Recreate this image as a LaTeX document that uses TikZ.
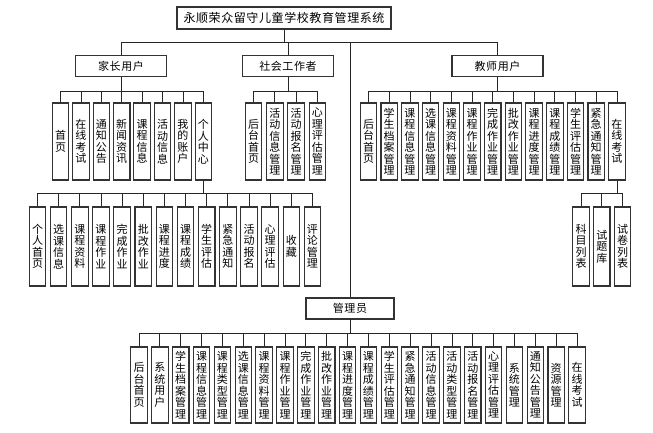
\documentclass[tikz,border=0pt]{standalone}
\usepackage{fontspec}
\newfontfamily\cjk{Noto Sans CJK SC}
\newfontfamily\cjkwide[LetterSpace=5]{Noto Sans CJK SC}
\usetikzlibrary{positioning}

% one character per line for the narrow boxes
\def\vlabel#1{\expandafter\vlabelstep#1\relax}
\def\vlabelstep#1#2{#1\ifx\relax#2\expandafter\vlabelstop\else\expandafter\vlabelnext\fi#2}
\def\vlabelnext{\\\vlabelstep}
\def\vlabelstop#1{}

\begin{document}
\begin{tikzpicture}[
    x=1pt, y=-1pt,
    box/.style={
            draw=black!80,
            line width=1.1pt,
            fill=white,
            inner sep=0pt
        },
    root_block/.style={box, minimum width=214pt, minimum height=22pt,
            font=\cjkwide\fontsize{12}{13}\selectfont},
    role_block/.style={box, minimum width=91pt, minimum height=21pt,
            font=\cjkwide\fontsize{11}{12}\selectfont},
    leaf_block/.style={box, minimum width=16.5pt, align=center,
            font=\cjk\fontsize{11}{11.5}\selectfont},
    edge/.style={draw=black!85, line width=0.8pt},
    ]
    \useasboundingbox (0,0) rectangle (653,432);

    % --- Root ---
    \node[root_block] (system) at (284,18) {永顺荣众留守儿童学校教育管理系统};

    % --- Roles ---
    \node[role_block] (parent) at (121,66) {家长用户};
    \node[role_block] (social) at (288,66) {社会工作者};
    \node[role_block] (teacher) at (497.5,66) {教师用户};
    \node[role_block, minimum width=88pt] (admin) at (350,308.5) {管理员};

    \draw[edge] (system.south) -- ++(0,13) -| (parent.north);
    \draw[edge] (system.south) -- ++(0,13) -| (social.north);
    \draw[edge] (system.south) -- ++(0,13) -| (teacher.north);
    \draw[edge] (system.south) -- ++(0,13) -| (admin.north);

    % --- Parent ---
    \foreach \lbl [count=\i from 0] in {首页,在线考试,通知公告,新闻资讯,课程信息,活动信息,我的账户,个人中心} {
        \node[leaf_block, minimum height=77pt] (parent_\i) at (60.5+20.4*\i,141.5) {\vlabel\lbl};
        \draw[edge] (parent.south) -- ++(0,14) -| (parent_\i.north);
    }

    % --- Personal centre ---
    \foreach \lbl [count=\i from 0] in {个人首页,选课信息,课程资料,课程作业,完成作业,批改作业,课程进度,课程成绩,学生评估,紧急通知,活动报名,心理评估,收藏,评论管理} {
        \node[leaf_block, minimum height=79pt] (center_\i) at (37.5+21.15*\i,246.5) {\vlabel\lbl};
        \draw[edge] (parent_7.south) -- ++(0,13) -| (center_\i.north);
    }

    % --- Social worker ---
    \foreach \lbl [count=\i from 0] in {后台首页,活动信息管理,活动报名管理,心理评估管理} {
        \node[leaf_block, minimum height=77pt] (social_\i) at (253.5+21.3*\i,141.5) {\vlabel\lbl};
        \draw[edge] (social.south) -- ++(0,14) -| (social_\i.north);
    }

    % --- Teacher ---
    \foreach \lbl [count=\i from 0] in {后台首页,学生档案管理,课程信息管理,选课信息管理,课程资料管理,课程作业管理,完成作业管理,批改作业管理,课程进度管理,课程成绩管理,学生评估管理,紧急通知管理,在线考试} {
        \node[leaf_block, minimum height=77pt] (teacher_\i) at (368.5+20.7*\i,141.5) {\vlabel\lbl};
        \draw[edge] (teacher.south) -- ++(0,14) -| (teacher_\i.north);
    }

    % --- Online exam ---
    \foreach \lbl [count=\i from 0] in {科目列表,试题库,试卷列表} {
        \node[leaf_block, minimum height=79pt] (exam_\i) at (581+20.75*\i,246.5) {\vlabel\lbl};
        \draw[edge] (teacher_12.south) -- ++(0,13) -| (exam_\i.north);
    }

    % --- Administrator ---
    \foreach \lbl [count=\i from 0] in {后台首页,系统用户,学生档案管理,课程信息管理,课程类型管理,选课信息管理,课程资料管理,课程作业管理,完成作业管理,批改作业管理,课程进度管理,课程成绩管理,学生评估管理,紧急通知管理,活动信息管理,活动类型管理,活动报名管理,心理评估管理,系统管理,通知公告管理,资源管理,在线考试} {
        \node[leaf_block, minimum height=76pt] (admin_\i) at (139+20.86*\i,385) {\vlabel\lbl};
        \draw[edge] (admin.south) -- ++(0,14) -| (admin_\i.north);
    }

\end{tikzpicture}
\end{document}
